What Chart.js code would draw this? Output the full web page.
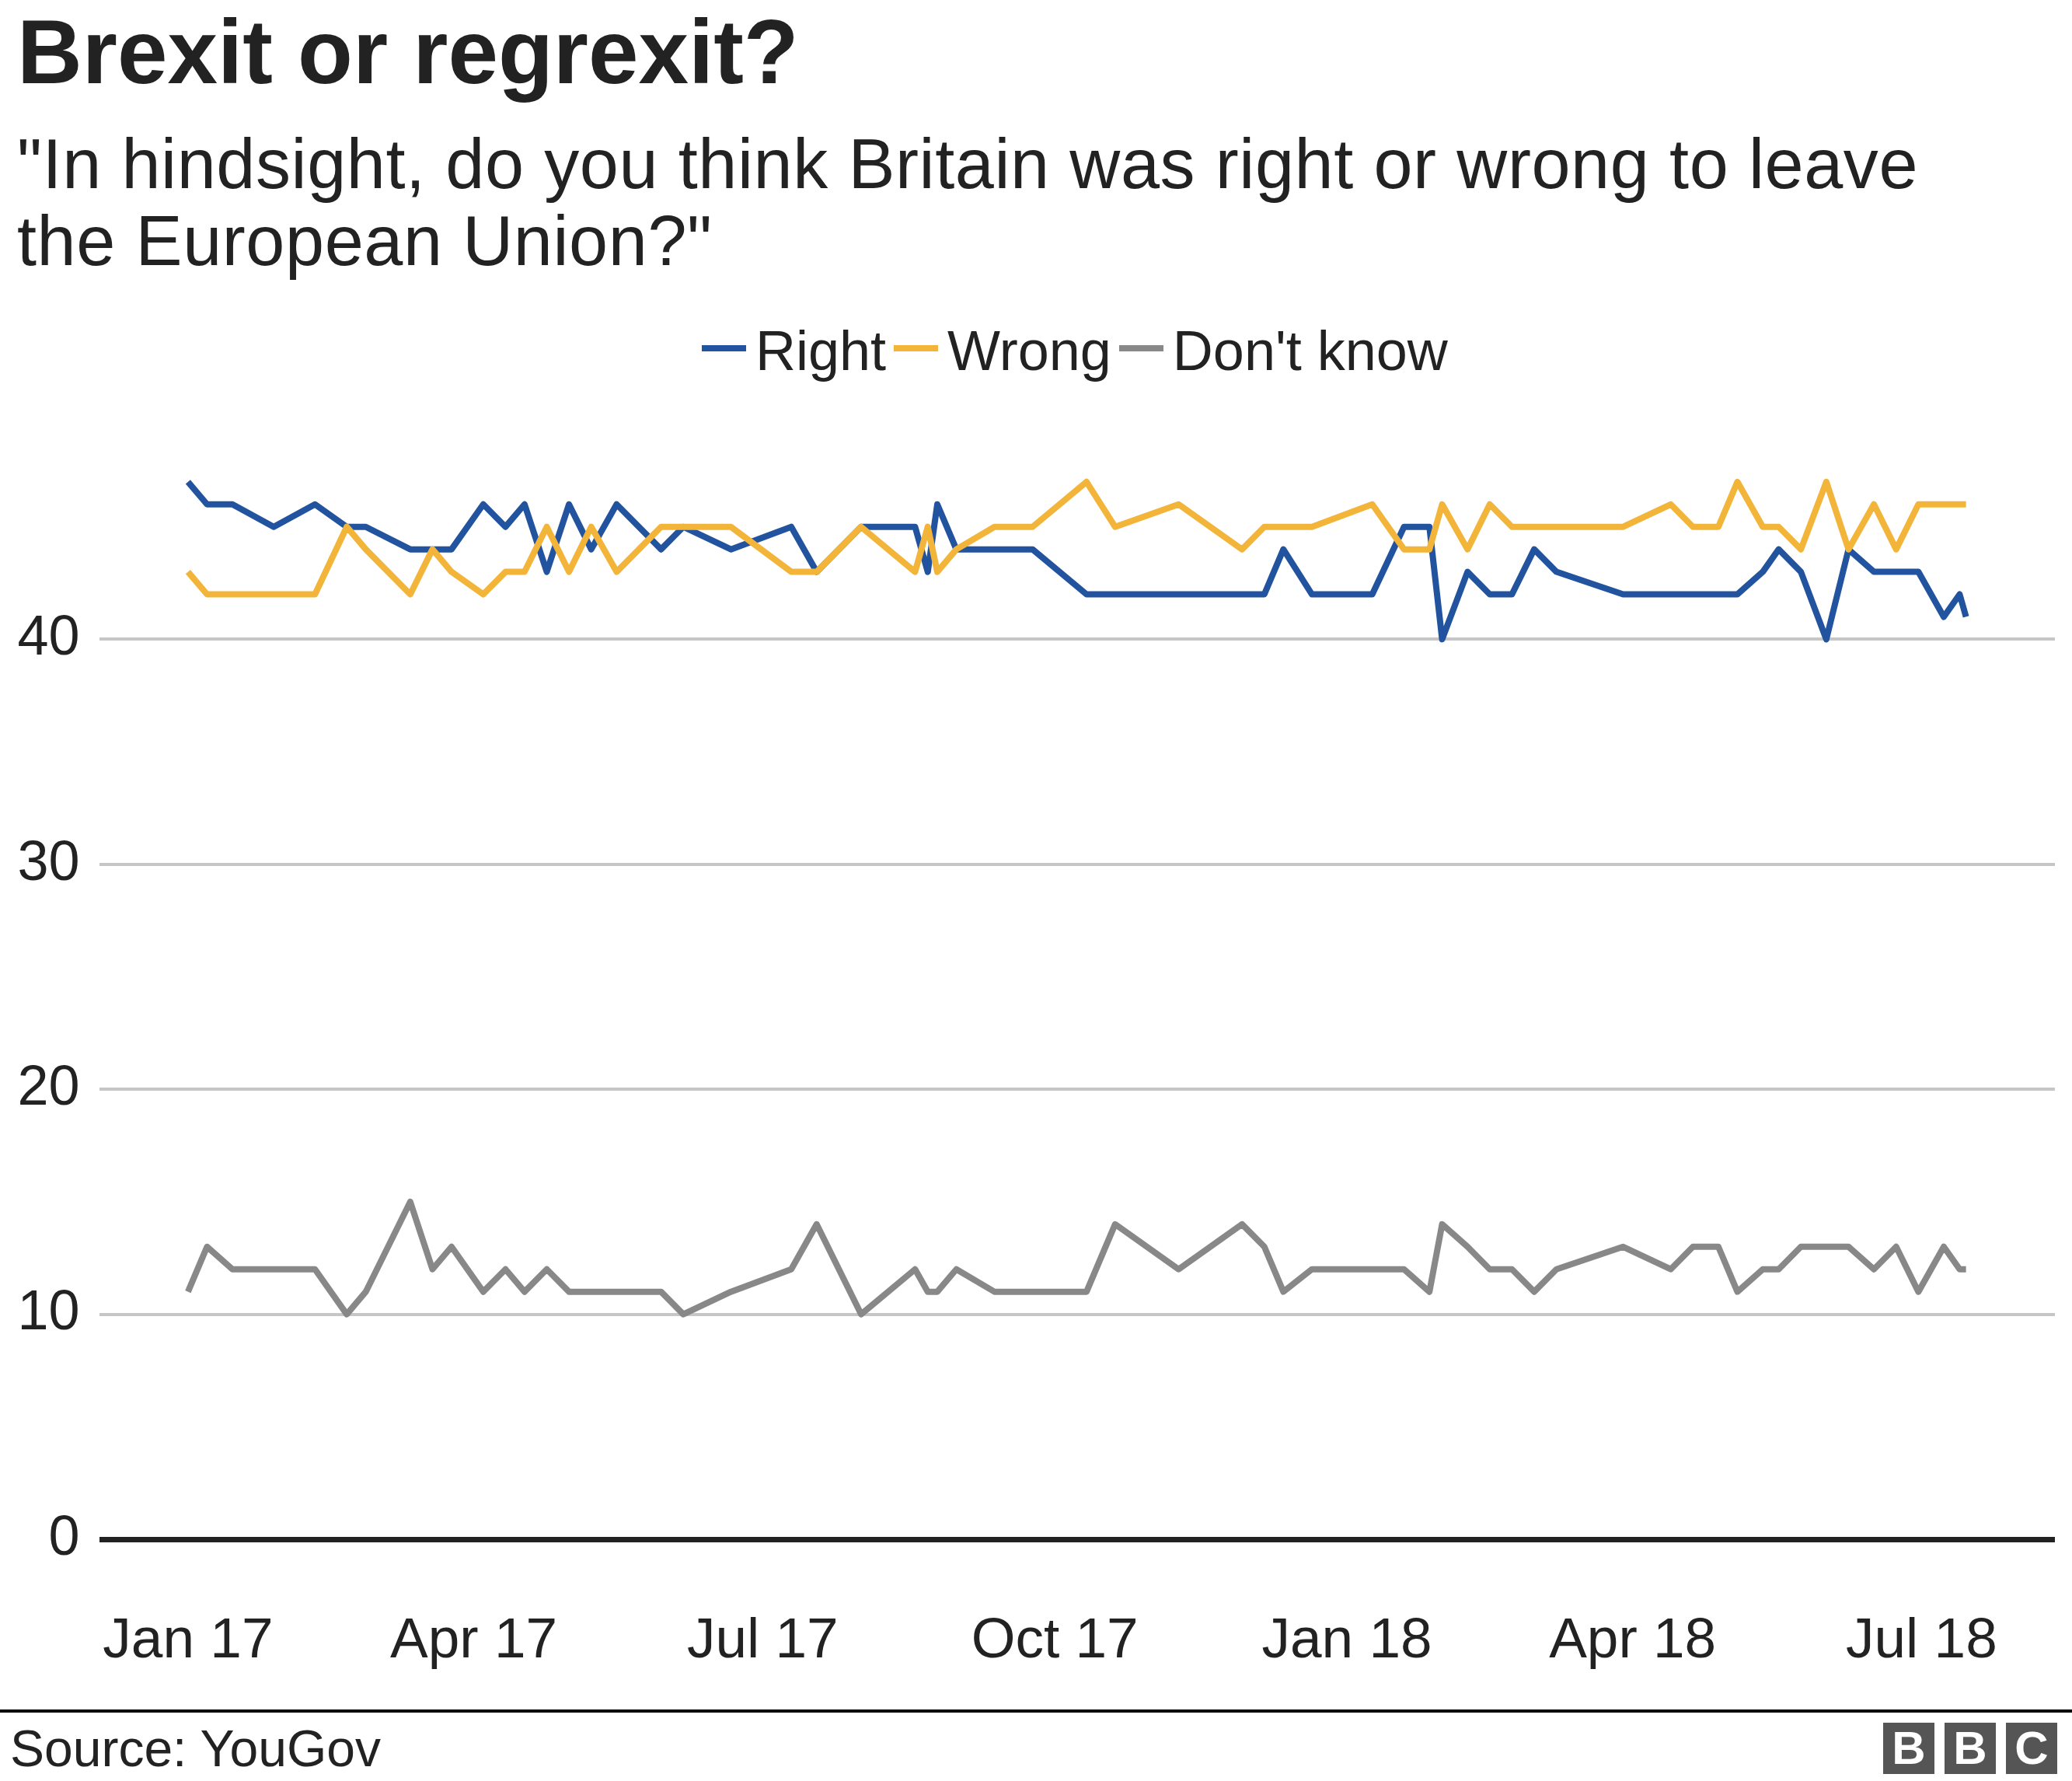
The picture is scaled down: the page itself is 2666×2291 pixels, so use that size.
<!DOCTYPE html>
<html lang="en">
<head>
<meta charset="utf-8">
<title>Brexit or regrexit?</title>
<script src="https://cdn.jsdelivr.net/npm/chart.js@4.4.1/dist/chart.umd.min.js"></script>
<style>
  html, body { margin: 0; padding: 0; background: #fff; }
  body { width: 2666px; height: 2291px; position: relative; overflow: hidden;
    font-family: "Liberation Sans", Arial, Helvetica, sans-serif; color: #222; }
  #chart { position: absolute; left: 0; top: 0; }
  .title { position: absolute; left: 22px; top: 9px; margin: 0; font-size: 116px; line-height: 116px; font-weight: bold; color: #222; }
  .sub { position: absolute; left: 22px; top: 162px; margin: 0; font-size: 90px; line-height: 99px; letter-spacing: 0.6px; color: #222; white-space: nowrap; }
  .legend { position: absolute; left: 903px; top: 415px; height: 72px; display: flex; align-items: center; font-size: 72px; line-height: 72px; white-space: nowrap; }
  .legend .mk { display: inline-block; width: 57px; height: 8px; margin-right: 12px; position: relative; top: -3px; }
  .legend .lb { margin-right: 10px; }
  .rule { position: absolute; left: 0; top: 2199px; width: 2666px; height: 4px; background: #000; }
  .source { position: absolute; left: 13px; top: 2216px; font-size: 66px; line-height: 66px; }
  .bbc { position: absolute; left: 2423px; top: 2216px; display: flex; }
  .bbc b { display: block; width: 66px; height: 66px; margin-right: 13px; background: #555; color: #fff;
    font-size: 60px; line-height: 66px; text-align: center; }
  .bbc b:last-child { margin-right: 0; }
</style>
</head>
<body>
<canvas id="chart" width="2666" height="2291"></canvas>
<h1 class="title">Brexit or regrexit?</h1>
<p class="sub">"In hindsight, do you think Britain was right or wrong to leave<br>the European Union?"</p>
<div class="legend" id="legend"></div>
<div class="rule"></div>
<div class="source">Source: YouGov</div>
<div class="bbc"><b>B</b><b>B</b><b>C</b></div>
<script>
// YouGov tracker, % of respondents
var POLL_DATES = [
  "2017-01-01", "2017-01-07", "2017-01-15", "2017-01-28", "2017-02-10", "2017-02-20", "2017-02-26", "2017-03-12", "2017-03-19", "2017-03-25",
  "2017-04-04", "2017-04-11", "2017-04-17", "2017-04-24", "2017-05-01", "2017-05-08", "2017-05-16", "2017-05-30", "2017-06-06", "2017-06-21",
  "2017-07-10", "2017-07-18", "2017-08-01", "2017-08-18", "2017-08-22", "2017-08-25", "2017-08-31", "2017-09-12", "2017-09-24", "2017-10-11",
  "2017-10-20", "2017-11-09", "2017-11-29", "2017-12-06", "2017-12-12", "2017-12-21", "2018-01-09", "2018-01-19", "2018-01-27", "2018-01-31",
  "2018-02-08", "2018-02-15", "2018-02-22", "2018-03-01", "2018-03-08", "2018-03-29", "2018-04-13", "2018-04-20", "2018-04-28", "2018-05-04",
  "2018-05-12", "2018-05-17", "2018-05-24", "2018-06-01", "2018-06-08", "2018-06-16", "2018-06-23", "2018-06-30", "2018-07-08", "2018-07-13",
  "2018-07-15"
];
var RIGHT = [
  47, 46, 46, 45, 46, 45, 45, 44, 44, 44,
  46, 45, 46, 43, 46, 44, 46, 44, 45, 44,
  45, 43, 45, 45, 43, 46, 44, 44, 44, 42,
  42, 42, 42, 42, 44, 42, 42, 45, 45, 40,
  43, 42, 42, 44, 43, 42, 42, 42, 42, 42,
  43, 44, 43, 40, 44, 43, 43, 43, 41, 42,
  41
];
var WRONG = [
  43, 42, 42, 42, 42, 45, 44, 42, 44, 43,
  42, 43, 43, 45, 43, 45, 43, 45, 45, 45,
  43, 43, 45, 43, 45, 43, 44, 45, 45, 47,
  45, 46, 44, 45, 45, 45, 46, 44, 44, 46,
  44, 46, 45, 45, 45, 45, 46, 45, 45, 47,
  45, 45, 44, 47, 44, 46, 44, 46, 46, 46,
  46
];
var DONT_KNOW = [
  11, 13, 12, 12, 12, 10, 11, 15, 12, 13,
  11, 12, 11, 12, 11, 11, 11, 11, 10, 11,
  12, 14, 10, 12, 11, 11, 12, 11, 11, 11,
  14, 12, 14, 13, 11, 12, 12, 12, 11, 14,
  13, 12, 12, 11, 12, 13, 12, 13, 13, 11,
  12, 12, 13, 13, 13, 12, 13, 11, 13, 12,
  12
];
var TICK_DATES = ["2017-01-01", "2017-04-01", "2017-07-01", "2017-10-01", "2018-01-01", "2018-04-01", "2018-07-01"];
var TICK_LABELS = ["Jan 17", "Apr 17", "Jul 17", "Oct 17", "Jan 18", "Apr 18", "Jul 18"];
var X_RANGE = ["2016-12-04", "2018-08-12"];
var Y_TICKS = [0, 10, 20, 30, 40];
var Y_MAX = 50;

(function () {
  "use strict";

  var FONT = "'Liberation Sans', Arial, Helvetica, sans-serif";
  var SERIES = [
    { label: "Right", data: RIGHT, color: "#22539f", order: 1 },
    { label: "Wrong", data: WRONG, color: "#f2b53a", order: 0 },
    { label: "Don't know", data: DONT_KNOW, color: "#888888", order: 2 }
  ];

  // dates -> day numbers so a plain linear scale can be used
  function dayNum(s) {
    var p = s.split("-");
    return Date.UTC(+p[0], +p[1] - 1, +p[2]) / 864e5;
  }

  var tickDays = TICK_DATES.map(dayNum);

  var datasets = SERIES.map(function (s) {
    return {
      label: s.label,
      data: s.data.map(function (v, i) { return { x: dayNum(POLL_DATES[i]), y: v }; }),
      borderColor: s.color,
      backgroundColor: s.color,
      borderWidth: 8,
      borderJoinStyle: "round",
      borderCapStyle: "butt",
      pointRadius: 0,
      tension: 0,
      order: s.order
    };
  });

  // legend as html, same colours as the lines
  var lg = document.getElementById("legend");
  lg.innerHTML = SERIES.map(function (s) {
    return '<span class="mk" style="background:' + s.color + '"></span><span class="lb">' + s.label + '</span>';
  }).join("");

  new Chart(document.getElementById("chart"), {
    type: "line",
    data: { datasets: datasets },
    options: {
      responsive: false,
      animation: false,
      events: [],
      layout: { padding: { top: 533, right: 22, bottom: 91, left: 0 } },
      plugins: { legend: { display: false }, tooltip: { enabled: false } },
      scales: {
        x: {
          type: "linear",
          min: dayNum(X_RANGE[0]),
          max: dayNum(X_RANGE[1]),
          afterBuildTicks: function (sc) { sc.ticks = tickDays.map(function (v) { return { value: v }; }); },
          afterFit: function (sc) { sc.height = 220; },
          grid: { display: false, drawTicks: false },
          border: { display: false },
          ticks: {
            maxRotation: 0,
            autoSkip: false,
            padding: 88,
            color: "#222",
            font: { family: FONT, size: 73 },
            callback: function (v) { var i = tickDays.indexOf(v); return i < 0 ? "" : TICK_LABELS[i]; }
          }
        },
        y: {
          min: 0,
          max: Y_MAX,
          afterBuildTicks: function (sc) { sc.ticks = Y_TICKS.map(function (v) { return { value: v }; }); },
          afterFit: function (sc) { sc.width = 127.5; },
          grid: {
            drawTicks: false,
            color: function (c) { return c.tick && c.tick.value === 0 ? "#222222" : "#c6c6c6"; },
            lineWidth: function (c) { return c.tick && c.tick.value === 0 ? 7 : 4; }
          },
          border: { display: false },
          ticks: { padding: 25, color: "#222", font: { family: FONT, size: 72 } }
        }
      }
    }
  });
})();
</script>
</body>
</html>
